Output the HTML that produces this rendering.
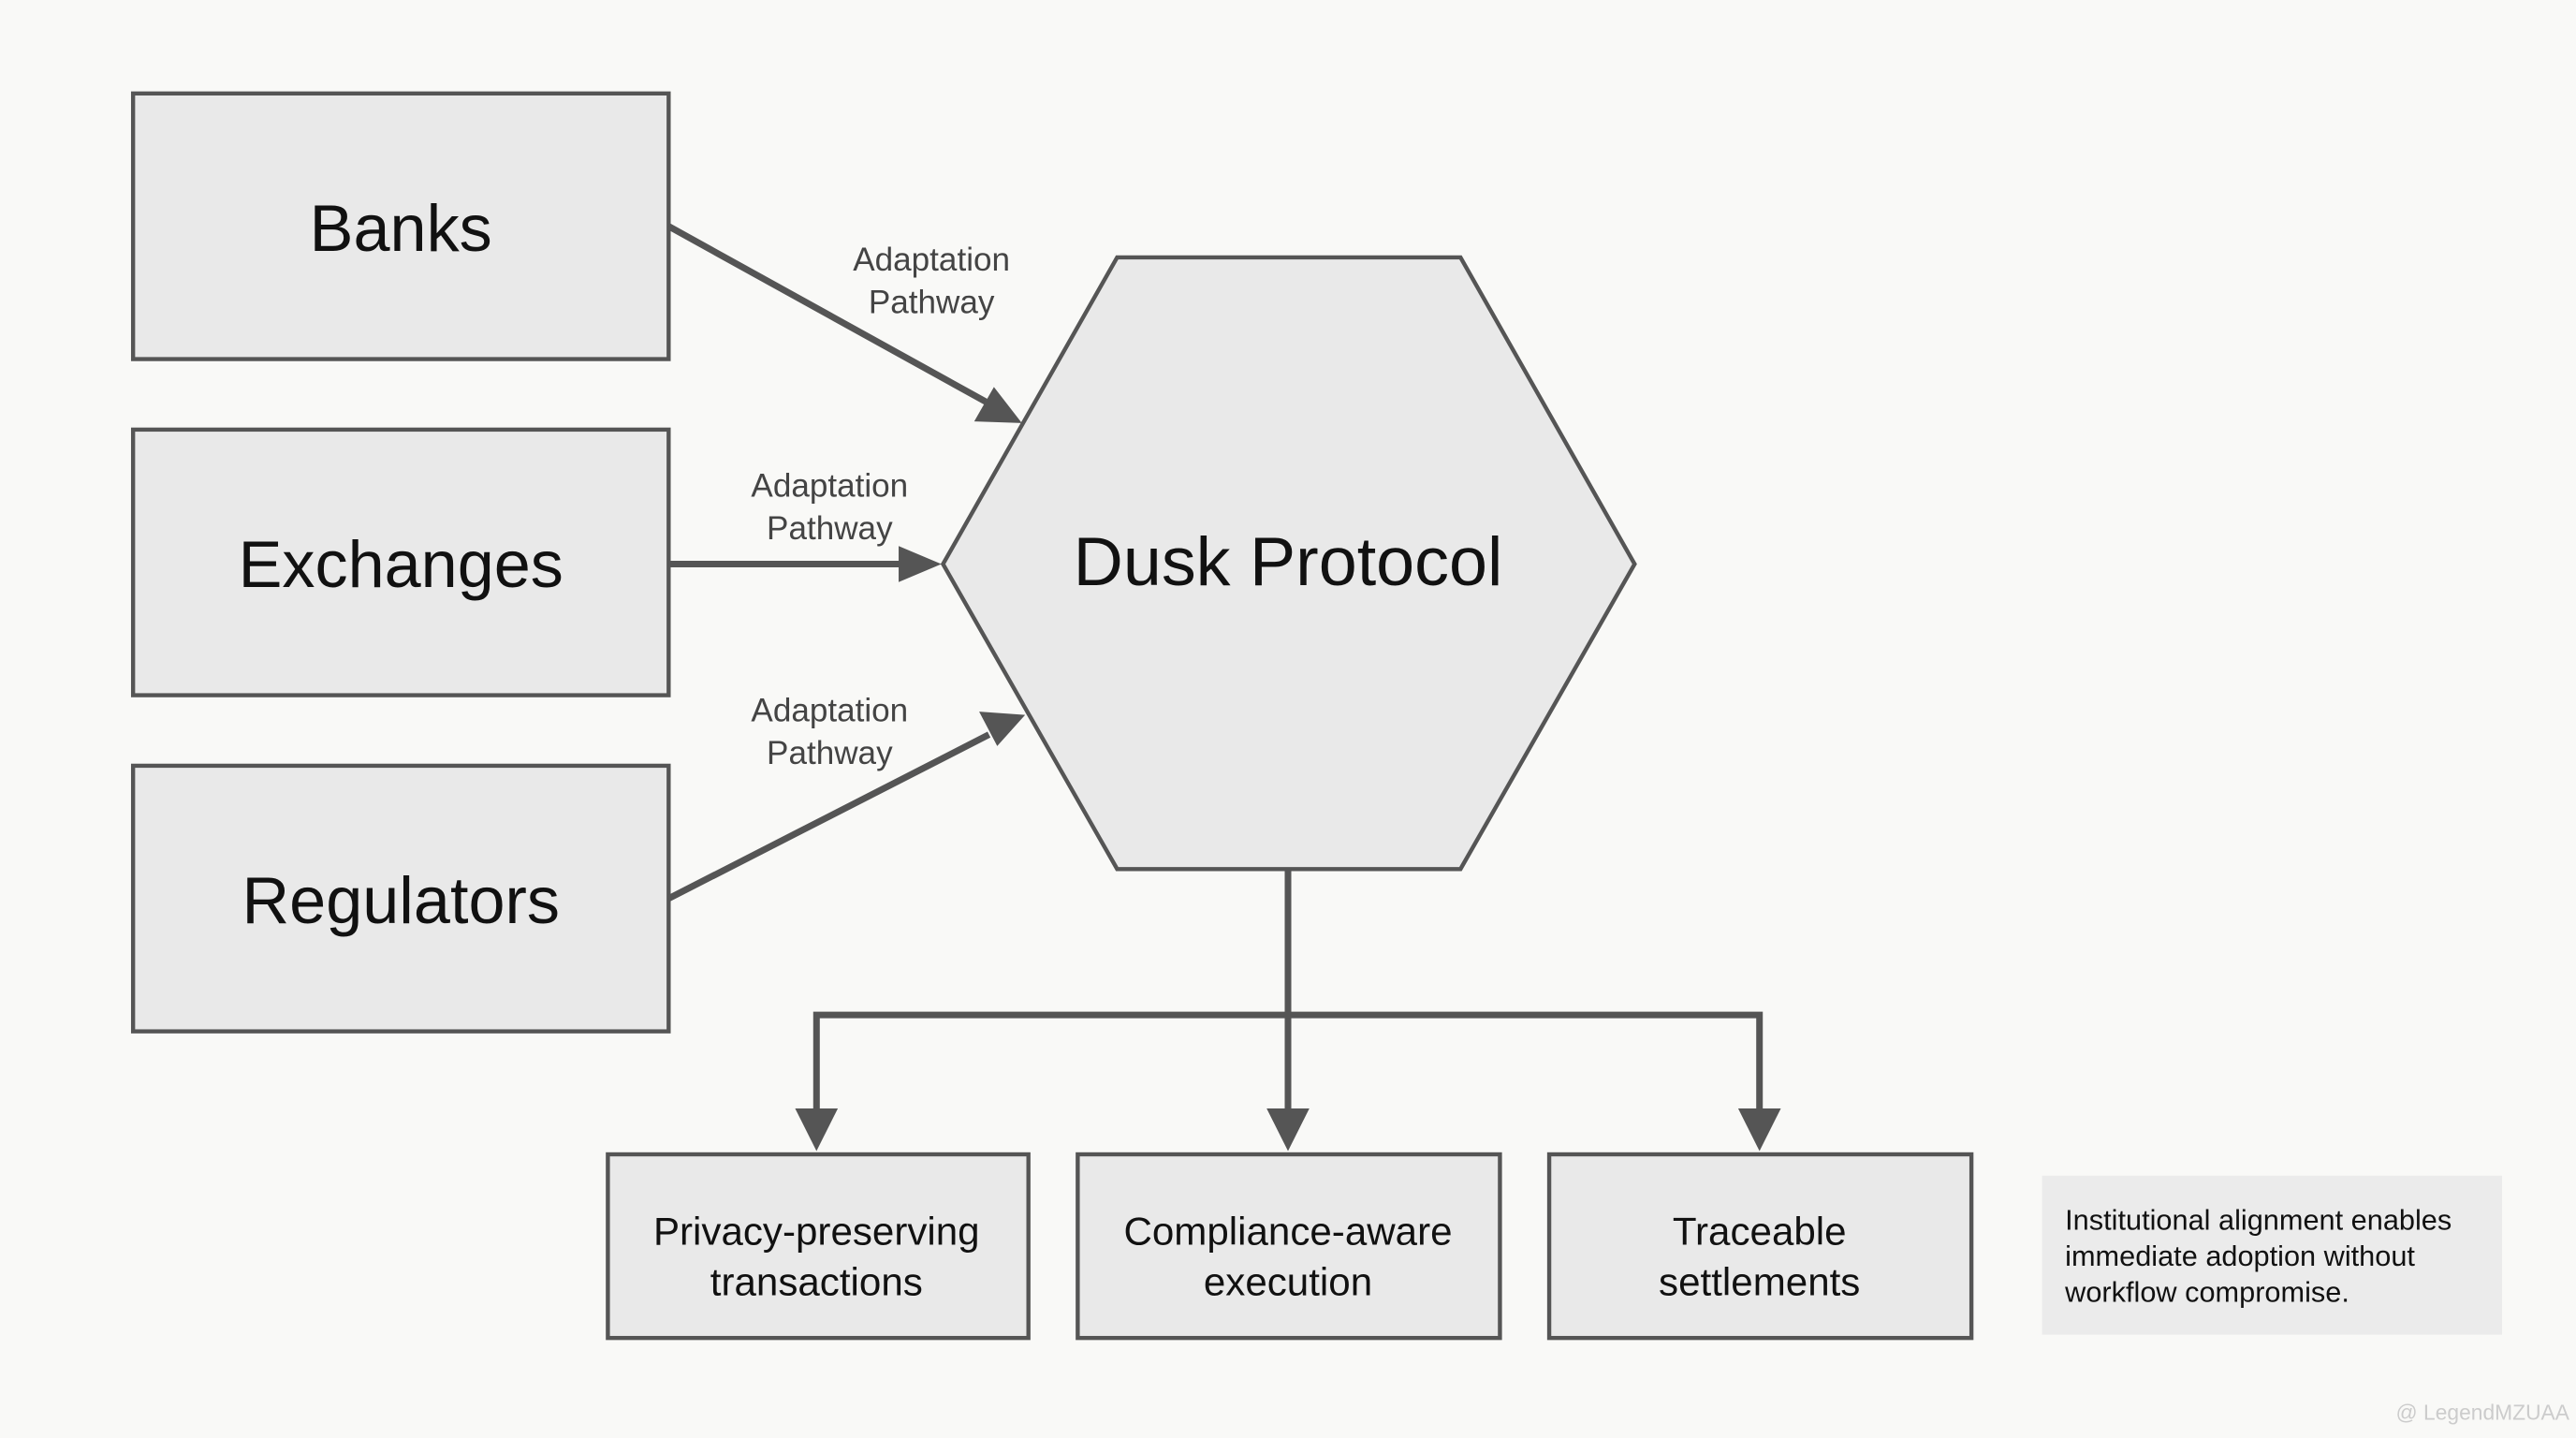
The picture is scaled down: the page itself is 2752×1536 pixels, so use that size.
<!DOCTYPE html>
<html><head><meta charset="utf-8"><style>
html,body{margin:0;padding:0;background:#f9f9f7;}
svg{display:block;}
text{font-family:"Liberation Sans",Arial,sans-serif;}
</style></head><body>
<svg width="2752" height="1536" viewBox="0 0 1568 877" preserveAspectRatio="none" xmlns="http://www.w3.org/2000/svg">
<defs>
<marker id="ah" markerWidth="10" markerHeight="10" refX="9" refY="5" orient="auto" markerUnits="userSpaceOnUse">
</marker>
</defs>
<rect width="1568" height="877" fill="#f9f9f7"/>
<g fill="#e9e9e9" stroke="#555" stroke-width="2.5">
<rect x="81" y="57" width="326" height="162"/>
<rect x="81" y="262" width="326" height="162"/>
<rect x="81" y="467" width="326" height="162"/>
<polygon points="680,157 889,157 995,344 889,530 680,530 574,344"/>
<rect x="370" y="704" width="256" height="112"/>
<rect x="656" y="704" width="257" height="112"/>
<rect x="943" y="704" width="257" height="112"/>
</g>
<rect x="1243" y="717" width="280" height="97" fill="#ebebeb"/>
<g stroke="#555" stroke-width="4" fill="none">
<line x1="407" y1="138" x2="600" y2="245"/>
<line x1="407" y1="344" x2="550" y2="344"/>
<line x1="407" y1="548" x2="602" y2="448"/>
<line x1="784" y1="530" x2="784" y2="680"/>
<polyline points="497,680 497,619 1071,619 1071,680"/>
</g>
<g fill="#555">
<polygon points="622,258 593,257 605,236"/>
<polygon points="573,344 547,333 547,355"/>
<polygon points="624,436 607,455 596,434"/>
<polygon points="484,676 510,676 497,702"/>
<polygon points="771,676 797,676 784,702"/>
<polygon points="1058,676 1084,676 1071,702"/>
</g>
<g fill="#111" text-anchor="middle">
<text x="244" y="153" font-size="40">Banks</text>
<text x="244" y="358" font-size="40">Exchanges</text>
<text x="244" y="563" font-size="40">Regulators</text>
<text x="784" y="357" font-size="42">Dusk Protocol</text>
<text x="497" y="759" font-size="24">Privacy-preserving</text>
<text x="497" y="790" font-size="24">transactions</text>
<text x="784" y="759" font-size="24">Compliance-aware</text>
<text x="784" y="790" font-size="24">execution</text>
<text x="1071" y="759" font-size="24">Traceable</text>
<text x="1071" y="790" font-size="24">settlements</text>
</g>
<g fill="#444" text-anchor="middle" font-size="20">
<text x="567" y="165">Adaptation</text>
<text x="567" y="191">Pathway</text>
<text x="505" y="303">Adaptation</text>
<text x="505" y="329">Pathway</text>
<text x="505" y="440">Adaptation</text>
<text x="505" y="466">Pathway</text>
</g>
<g fill="#111" font-size="17.5">
<text x="1257" y="750">Institutional alignment enables</text>
<text x="1257" y="772">immediate adoption without</text>
<text x="1257" y="794">workflow compromise.</text>
</g>
<text x="1564" y="866" text-anchor="end" fill="#ccc" font-size="13">@ LegendMZUAA</text>
</svg>
</body></html>
